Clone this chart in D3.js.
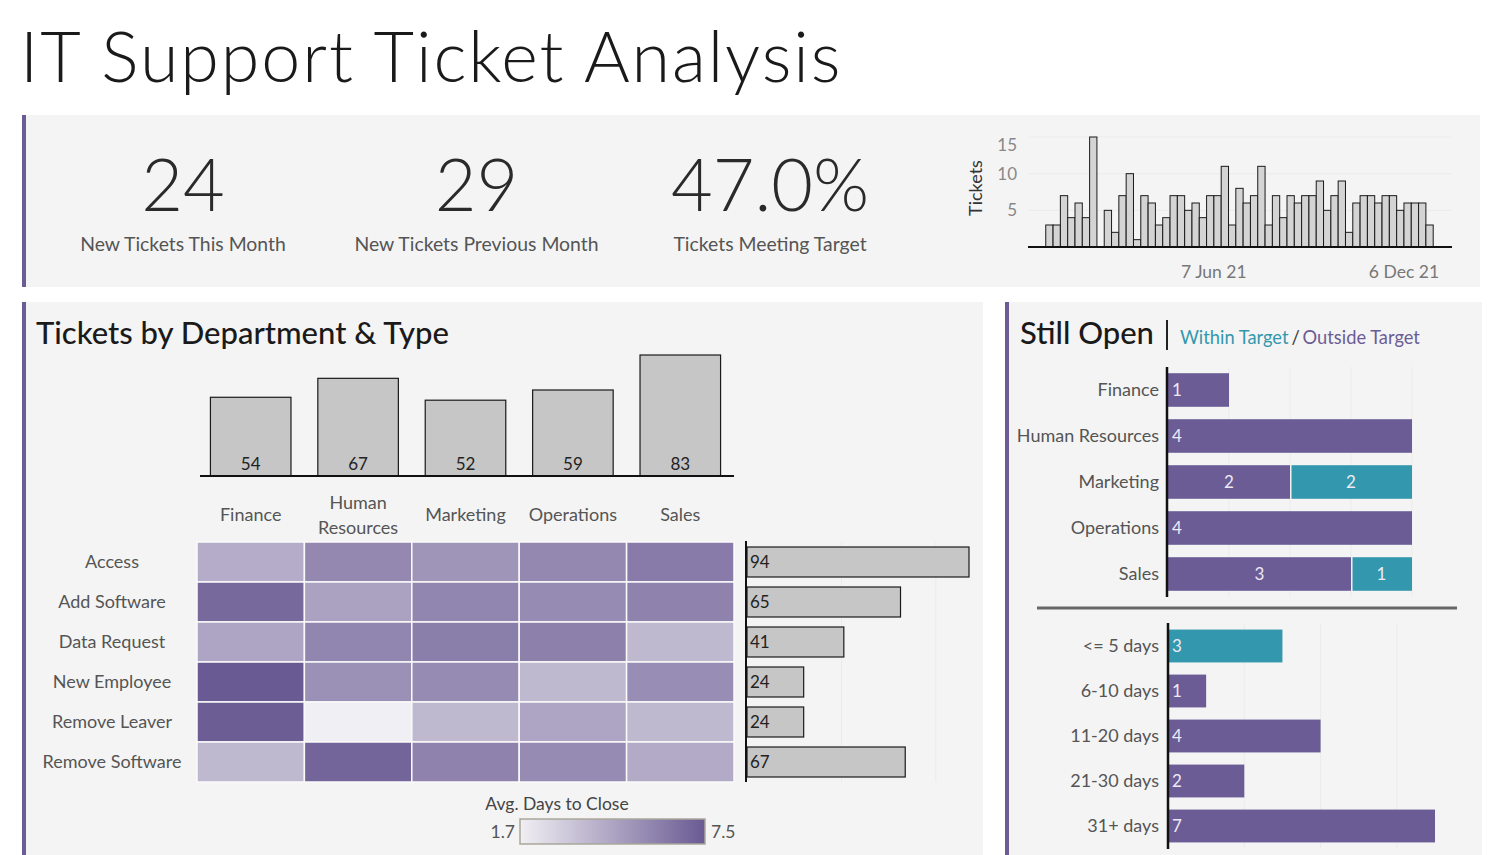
<!DOCTYPE html>
<html lang="en">
<head>
  <meta charset="UTF-8">
  <title>IT Support Ticket Analysis</title>
  <script src="https://cdn.jsdelivr.net/npm/d3@7"></script>
  <style>
    body { margin: 0; background: #fff; font-family: Lato, "Open Sans", sans-serif; }
    svg { display: block; }
    .axis-label { fill: #555; font-size: 18px; }
    .val { font-size: 17px; }
  </style>
</head>
<body>
  <svg width="1500" height="855"></svg>
  <script>
    // KPI band
    const kpiValues = ['24', '29', '47.0%'];
    const kpiLabels = ['New Tickets This Month', 'New Tickets Previous Month', 'Tickets Meeting Target'];

    // weekly new tickets, first week starting 28 Dec 2020
    const weekStart = '2020-12-28';
    const weeklyTickets = [3, 3, 7, 4, 6, 4, 15, 0, 5, 2, 7, 10, 1, 7, 6, 3, 4, 7, 7, 5, 6, 4, 7, 7,
      11, 3, 8, 6, 7, 11, 3, 7, 4, 7, 6, 7, 7, 9, 5, 7, 9, 2, 6, 7, 7, 6, 7, 7, 5, 6, 6, 6, 3];
    const sparkTicks = ['2021-06-07', '2021-12-06'];

    // department x type
    const departments = ['Finance', 'Human Resources', 'Marketing', 'Operations', 'Sales'];
    const deptTickets = [54, 67, 52, 59, 83];
    const ticketTypes = ['Access', 'Add Software', 'Data Request', 'New Employee', 'Remove Leaver', 'Remove Software'];
    const typeTickets = [94, 65, 41, 24, 24, 67];
    const avgDaysToClose = [
      [4.3, 5.7, 5.2, 5.7, 6.2],
      [6.9, 4.7, 5.8, 5.6, 5.9],
      [4.6, 5.8, 6.1, 6.0, 3.8],
      [7.5, 5.4, 5.6, 3.8, 5.5],
      [7.4, 1.7, 3.8, 4.6, 3.8],
      [3.8, 7.1, 5.9, 5.6, 4.4]
    ];
    const daysRange = [1.7, 7.5];

    // still open
    const openOutside = [1, 4, 2, 4, 3];
    const openWithin = [0, 0, 2, 0, 1];
    const ageBands = ['<= 5 days', '6-10 days', '11-20 days', '21-30 days', '31+ days'];
    const ageCounts = [3, 1, 4, 2, 7];
    const ageStatus = ['within', 'outside', 'outside', 'outside', 'outside'];

    const purple = '#6b5c95';
    const teal = '#3398ad';
    const panelBg = '#f4f4f4';
    const barGray = '#c6c6c6';

    const svg = d3.select('svg');

    // title
    svg.append('text')
      .attr('x', 20).attr('y', 82)
      .attr('font-size', 70).attr('font-weight', 300).attr('fill', '#1a1a1a')
      .attr('letter-spacing', 1.9)
      .text('IT Support Ticket Analysis');

    // panels
    const panels = [
      { x: 22, y: 115, w: 1458, h: 172 },
      { x: 22, y: 302, w: 961, h: 560 },
      { x: 1005, y: 302, w: 477, h: 560 }
    ];
    svg.append('g').selectAll('g')
      .data(panels)
      .join('g')
      .each(function (d) {
        const g = d3.select(this);
        g.append('rect').attr('x', d.x).attr('y', d.y).attr('width', d.w).attr('height', d.h).attr('fill', panelBg);
        g.append('rect').attr('x', d.x).attr('y', d.y).attr('width', 4).attr('height', d.h).attr('fill', purple);
      });

    // KPIs
    const kpiX = d3.scalePoint().domain(d3.range(3)).range([183, 770]);
    const kpi = svg.append('g').selectAll('g').data(kpiValues).join('g')
      .attr('transform', (d, i) => `translate(${kpiX(i)},0)`);
    kpi.append('text').attr('y', 211).attr('text-anchor', 'middle')
      .attr('font-size', 72).attr('font-weight', 300).attr('fill', '#2a2a2a')
      .text(d => d);
    kpi.append('text').attr('y', 251).attr('text-anchor', 'middle')
      .attr('font-size', 19.4).attr('fill', '#555')
      .text((d, i) => kpiLabels[i]);

    // sparkline weekly bars
    const parse = d3.utcParse('%Y-%m-%d');
    const week0 = parse(weekStart);
    const weeks = weeklyTickets.map((v, i) => ({ date: d3.utcWeek.offset(week0, i), v }));
    const sx = d3.scaleUtc()
      .domain([d3.utcDay.offset(week0, -17), d3.utcDay.offset(week0, 53 * 7 + 18)])
      .range([1028, 1452]);
    const sy = d3.scaleLinear().domain([0, 15]).range([247, 137]);
    const spark = svg.append('g');
    spark.append('g').selectAll('line').data([5, 10, 15]).join('line')
      .attr('x1', 1028).attr('x2', 1452)
      .attr('y1', d => sy(d)).attr('y2', d => sy(d))
      .attr('stroke', '#ebebeb');
    spark.append('g').selectAll('text').data([5, 10, 15]).join('text')
      .attr('x', 1017).attr('y', d => sy(d) + (d === 15 ? 14 : 6)).attr('text-anchor', 'end')
      .attr('font-size', 17).attr('fill', '#888').text(d => d);
    spark.append('text')
      .attr('transform', 'translate(982,188) rotate(-90)').attr('text-anchor', 'middle')
      .attr('font-size', 18).attr('fill', '#333').text('Tickets');
    spark.append('g').selectAll('rect').data(weeks.filter(d => d.v > 0)).join('rect')
      .attr('x', d => sx(d.date))
      .attr('width', d => sx(d3.utcWeek.offset(d.date, 1)) - sx(d.date))
      .attr('y', d => sy(d.v)).attr('height', d => sy(0) - sy(d.v))
      .attr('fill', '#d4d4d4').attr('stroke', '#1a1a1a').attr('stroke-width', 1);
    spark.append('line').attr('x1', 1028).attr('x2', 1452).attr('y1', sy(0)).attr('y2', sy(0))
      .attr('stroke', '#111').attr('stroke-width', 2);
    spark.append('g').selectAll('text').data(sparkTicks.map(parse)).join('text')
      .attr('x', d => sx(d)).attr('y', 278).attr('text-anchor', 'middle')
      .attr('font-size', 17.5).attr('fill', '#777')
      .text(d3.utcFormat('%-d %b %y'));

    // Tickets by Department & Type
    svg.append('text').attr('x', 36).attr('y', 344)
      .attr('font-size', 31).attr('font-weight', 500).attr('fill', '#1a1a1a')
      .text('Tickets by Department & Type');

    const hx = d3.scaleBand().domain(departments).range([197, 734]);
    const bx = d3.scaleBand().domain(departments).range([197, 734]).paddingInner(0.25).paddingOuter(0.125);
    const by = d3.scaleLinear().domain([0, 83]).range([476, 355]);
    const colBars = svg.append('g');
    colBars.selectAll('rect').data(departments).join('rect')
      .attr('x', d => bx(d)).attr('width', bx.bandwidth())
      .attr('y', (d, i) => by(deptTickets[i])).attr('height', (d, i) => by(0) - by(deptTickets[i]))
      .attr('fill', barGray).attr('stroke', '#1a1a1a').attr('stroke-width', 1.2);
    colBars.selectAll('text.val').data(departments).join('text').attr('class', 'val')
      .attr('x', d => bx(d) + bx.bandwidth() / 2).attr('y', by(0) - 6).attr('text-anchor', 'middle')
      .attr('fill', '#222').text((d, i) => deptTickets[i]);
    colBars.append('line').attr('x1', 200).attr('x2', 734).attr('y1', by(0)).attr('y2', by(0))
      .attr('stroke', '#111').attr('stroke-width', 2);

    // column headers
    const headers = svg.append('g').selectAll('text').data(departments).join('text')
      .attr('class', 'axis-label').attr('text-anchor', 'middle')
      .attr('x', d => hx(d) + hx.bandwidth() / 2);
    headers.each(function (d) {
      const words = d.length > 12 ? d.split(' ') : [d];
      const t = d3.select(this);
      words.forEach((w, j) => {
        t.append('tspan').attr('x', hx(d) + hx.bandwidth() / 2)
          .attr('y', 521 + (j - (words.length - 1) / 2) * 25).text(w);
      });
    });

    // heatmap
    const hy = d3.scaleBand().domain(ticketTypes).range([542, 782]);
    const color = d3.scaleSequential(d3.interpolateRgb('#f0eff3', '#6a5a93')).domain(daysRange);
    const cells = ticketTypes.flatMap((t, r) => departments.map((dep, c) => ({ t, dep, v: avgDaysToClose[r][c] })));
    svg.append('g').selectAll('rect').data(cells).join('rect')
      .attr('x', d => hx(d.dep)).attr('y', d => hy(d.t))
      .attr('width', hx.bandwidth()).attr('height', hy.bandwidth())
      .attr('fill', d => color(d.v)).attr('stroke', '#fafafa').attr('stroke-width', 1.5);
    svg.append('g').selectAll('text').data(ticketTypes).join('text')
      .attr('class', 'axis-label').attr('fill', '#333').attr('text-anchor', 'middle')
      .attr('x', 112).attr('y', d => hy(d) + hy.bandwidth() / 2 + 6).text(d => d);

    // type totals
    const ry = d3.scaleBand().domain(ticketTypes).range([542, 782]).paddingInner(0.25).paddingOuter(0.125);
    const rx = d3.scaleLinear().domain([0, 94]).range([747, 969]);
    const rowBars = svg.append('g');
    rowBars.selectAll('line.grid').data([40, 80]).join('line').attr('class', 'grid')
      .attr('x1', d => rx(d)).attr('x2', d => rx(d)).attr('y1', 542).attr('y2', 782)
      .attr('stroke', '#ebebeb');
    rowBars.selectAll('rect').data(ticketTypes).join('rect')
      .attr('x', rx(0)).attr('y', d => ry(d)).attr('height', ry.bandwidth())
      .attr('width', (d, i) => rx(typeTickets[i]) - rx(0))
      .attr('fill', barGray).attr('stroke', '#1a1a1a').attr('stroke-width', 1.2);
    rowBars.selectAll('text').data(ticketTypes).join('text').attr('class', 'val')
      .attr('x', rx(0) + 3).attr('y', d => ry(d) + ry.bandwidth() / 2 + 6)
      .attr('fill', '#222').text((d, i) => typeTickets[i]);
    rowBars.append('line').attr('x1', 746).attr('x2', 746).attr('y1', 541).attr('y2', 782)
      .attr('stroke', '#111').attr('stroke-width', 2);

    // colour legend
    const lx = d3.scaleLinear().domain(daysRange).range([520, 705]);
    const defs = svg.append('defs');
    const grad = defs.append('linearGradient').attr('id', 'days-grad');
    grad.selectAll('stop').data(d3.range(0, 1.01, 0.1)).join('stop')
      .attr('offset', d => d)
      .attr('stop-color', d => color(daysRange[0] + d * (daysRange[1] - daysRange[0])));
    const legend = svg.append('g');
    legend.append('text').attr('x', 557).attr('y', 810).attr('text-anchor', 'middle')
      .attr('font-size', 17.5).attr('fill', '#444').text('Avg. Days to Close');
    legend.append('rect').attr('x', lx(daysRange[0])).attr('y', 819)
      .attr('width', lx(daysRange[1]) - lx(daysRange[0])).attr('height', 25)
      .attr('fill', 'url(#days-grad)').attr('stroke', '#a9a69a').attr('stroke-width', 1.5);
    legend.append('text').attr('x', 515).attr('y', 838).attr('text-anchor', 'end')
      .attr('font-size', 17.5).attr('fill', '#555').text(daysRange[0]);
    legend.append('text').attr('x', 711).attr('y', 838)
      .attr('font-size', 17.5).attr('fill', '#555').text(daysRange[1]);

    // Still Open
    svg.append('text').attr('x', 1020).attr('y', 344)
      .attr('font-size', 31).attr('font-weight', 500).attr('fill', '#1a1a1a').text('Still Open');
    svg.append('line').attr('x1', 1167).attr('x2', 1167).attr('y1', 320).attr('y2', 350)
      .attr('stroke', '#222').attr('stroke-width', 2);
    const subtitle = svg.append('text').attr('x', 1180).attr('y', 344).attr('font-size', 18.3);
    subtitle.append('tspan').attr('fill', teal).text('Within Target');
    subtitle.append('tspan').attr('fill', '#333').attr('dx', 3).text('/');
    subtitle.append('tspan').attr('fill', purple).attr('dx', 3).text('Outside Target');

    function hBars(y0, y1, cats, maxV, xMax, grid) {
      const y = d3.scaleBand().domain(cats).range([y0, y1]).paddingInner(0.27).paddingOuter(0.135);
      const x = d3.scaleLinear().domain([0, maxV]).range([1168, xMax]);
      const g = svg.append('g');
      g.selectAll('line.grid').data(grid).join('line').attr('class', 'grid')
        .attr('x1', d => x(d)).attr('x2', d => x(d)).attr('y1', y0).attr('y2', y1)
        .attr('stroke', '#ebebeb');
      g.selectAll('text.cat').data(cats).join('text').attr('class', 'axis-label')
        .attr('x', 1159).attr('y', d => y(d) + y.bandwidth() / 2 + 6).attr('text-anchor', 'end')
        .text(d => d);
      return { g, x, y };
    }

    // open by department, stacked outside + within
    const dep = hBars(367, 597, departments, 4, 1412, [1, 2, 3, 4]);
    const segs = departments.flatMap((d, i) => {
      const out = [{ d, x0: 0, x1: openOutside[i], fill: purple }];
      if (openWithin[i] > 0) out.push({ d, x0: openOutside[i], x1: openOutside[i] + openWithin[i], fill: teal });
      return out.map(s => ({ ...s, stacked: openWithin[i] > 0 && openOutside[i] > 0 }));
    });
    dep.g.selectAll('rect').data(segs).join('rect')
      .attr('x', s => dep.x(s.x0) + (s.x0 > 0 ? 1.5 : 0)).attr('y', s => dep.y(s.d))
      .attr('width', s => dep.x(s.x1) - dep.x(s.x0) - (s.x0 > 0 ? 1.5 : 0)).attr('height', dep.y.bandwidth())
      .attr('fill', s => s.fill);
    dep.g.selectAll('text.val').data(segs).join('text').attr('class', 'val')
      .attr('x', s => s.stacked ? (dep.x(s.x0) + dep.x(s.x1)) / 2 : dep.x(s.x0) + 4)
      .attr('text-anchor', s => s.stacked ? 'middle' : 'start')
      .attr('y', s => dep.y(s.d) + dep.y.bandwidth() / 2 + 6)
      .attr('fill', '#eeeaf5').text(s => s.x1 - s.x0);
    dep.g.append('line').attr('x1', 1167).attr('x2', 1167).attr('y1', 367).attr('y2', 597)
      .attr('stroke', '#111').attr('stroke-width', 2.5);

    svg.append('line').attr('x1', 1037).attr('x2', 1457).attr('y1', 608).attr('y2', 608)
      .attr('stroke', '#666').attr('stroke-width', 3);

    // open by age
    const age = hBars(623.5, 848.5, ageBands, 7, 1435, [2, 4, 6]);
    age.g.selectAll('rect').data(ageBands).join('rect')
      .attr('x', age.x(0)).attr('y', d => age.y(d)).attr('height', age.y.bandwidth())
      .attr('width', (d, i) => age.x(ageCounts[i]) - age.x(0))
      .attr('fill', (d, i) => ageStatus[i] === 'within' ? teal : purple);
    age.g.selectAll('text.val').data(ageBands).join('text').attr('class', 'val')
      .attr('x', age.x(0) + 4).attr('y', d => age.y(d) + age.y.bandwidth() / 2 + 6)
      .attr('fill', '#eeeaf5').text((d, i) => ageCounts[i]);
    age.g.append('line').attr('x1', 1168).attr('x2', 1168).attr('y1', 623).attr('y2', 849)
      .attr('stroke', '#111').attr('stroke-width', 2.5);
  </script>
</body>
</html>
